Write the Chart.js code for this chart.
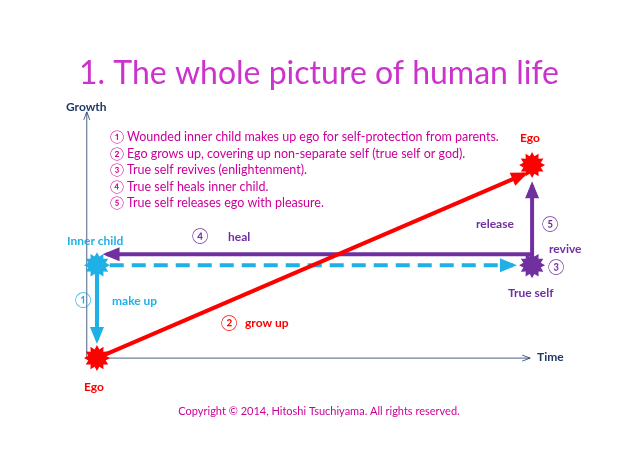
<!DOCTYPE html>
<html>
<head>
<meta charset="utf-8">
<script src="https://cdn.jsdelivr.net/npm/chart.js@4.4.1/dist/chart.umd.min.js"></script>
<style>
  html, body { margin: 0; padding: 0; background: #fff; }
  #wrap { width: 638px; height: 451px; }
</style>
</head>
<body>
<div id="wrap"><canvas id="diagram"></canvas></div>
<script>
// node positions on a 0-100 grid
const nodeNames = ['egoLow', 'innerChild', 'trueSelf', 'egoHigh'];
const nodeX = [15.2, 15.2, 83.4, 83.4];
const nodeY = [20.6, 41.2, 41.2, 63.4];
const nodeColors = ['#ff0000', '#1fb0e6', '#7030a0', '#ff0000'];

// axes
const axisOrigin = [13.6, 20.6];
const growthTop = 75.2;
const timeEnd = 83.1;

const legendLines = [
  '\u2460 Wounded inner child makes up ego for self-protection from parents.',
  '\u2461 Ego grows up, covering up non-separate self (true self or god).',
  '\u2462 True self revives (enlightenment).',
  '\u2463 True self heals inner child.',
  '\u2464 True self releases ego with pleasure.'
];

const FONT = 'Lato, "Open Sans", sans-serif';
const CYAN = '#1fb0e6', RED = '#ff0000', PURPLE = '#7030a0', PINK = '#cc0099', NAVY = '#1f3864';

function seg(x1, y1, x2, y2, color, width, dash) {
  return {
    data: [{x: x1, y: y1}, {x: x2, y: y2}],
    showLine: true, borderColor: color, borderWidth: width,
    borderDash: dash || [], pointRadius: 0, arrow: true
  };
}

const datasets = [
  seg(axisOrigin[0], axisOrigin[1], axisOrigin[0], growthTop, NAVY, 0.8),
  seg(axisOrigin[0], axisOrigin[1], timeEnd, axisOrigin[1], NAVY, 0.8),
  seg(nodeX[1], nodeY[1], nodeX[0], nodeY[0] + 4, CYAN, 4),
  seg(nodeX[0], nodeY[0], nodeX[3] - 1.2, nodeY[3] - 2, RED, 4),
  seg(nodeX[1] + 2, nodeY[1], nodeX[2] - 3, nodeY[2], CYAN, 4, [14, 8]),
  seg(nodeX[2], 43.6, nodeX[1] + 1.5, 43.6, PURPLE, 4),
  seg(nodeX[2], nodeY[2] + 1, nodeX[3], nodeY[3] - 4.5, PURPLE, 4)
];

const diagramPlugin = {
  id: 'diagram',
  afterDatasetsDraw(chart) {
    const ctx = chart.ctx, xs = chart.scales.x, ys = chart.scales.y;
    // arrowheads
    chart.data.datasets.forEach(ds => {
      if (!ds.arrow) return;
      const a = ds.data[0], b = ds.data[1];
      const x1 = xs.getPixelForValue(a.x), y1 = ys.getPixelForValue(a.y);
      const x2 = xs.getPixelForValue(b.x), y2 = ys.getPixelForValue(b.y);
      const ang = Math.atan2(y2 - y1, x2 - x1);
      const len = ds.borderWidth > 2 ? 13 : 8, wid = ds.borderWidth > 2 ? 7 : 3;
      ctx.save();
      ctx.fillStyle = ds.borderColor;
      ctx.strokeStyle = ds.borderColor;
      if (ds.borderWidth > 2) {
        ctx.beginPath();
        ctx.moveTo(x2 + Math.cos(ang) * 4, y2 + Math.sin(ang) * 4);
        ctx.lineTo(x2 - Math.cos(ang) * len - Math.sin(ang) * wid, y2 - Math.sin(ang) * len + Math.cos(ang) * wid);
        ctx.lineTo(x2 - Math.cos(ang) * len + Math.sin(ang) * wid, y2 - Math.sin(ang) * len - Math.cos(ang) * wid);
        ctx.closePath(); ctx.fill();
      } else {
        ctx.lineWidth = 0.8;
        ctx.beginPath();
        ctx.moveTo(x2 - Math.cos(ang) * len - Math.sin(ang) * wid, y2 - Math.sin(ang) * len + Math.cos(ang) * wid);
        ctx.lineTo(x2, y2);
        ctx.lineTo(x2 - Math.cos(ang) * len + Math.sin(ang) * wid, y2 - Math.sin(ang) * len - Math.cos(ang) * wid);
        ctx.stroke();
      }
      ctx.restore();
    });
    // burst nodes
    nodeX.forEach((v, i) => {
      const cx = xs.getPixelForValue(v), cy = ys.getPixelForValue(nodeY[i]);
      ctx.save();
      ctx.fillStyle = nodeColors[i];
      ctx.beginPath();
      for (let k = 0; k < 24; k++) {
        const r = k % 2 ? 9 : 13, t = k * Math.PI / 12;
        ctx[k ? 'lineTo' : 'moveTo'](cx + r * Math.cos(t), cy + r * Math.sin(t));
      }
      ctx.closePath(); ctx.fill();
      ctx.restore();
    });
    // texts
    const text = (s, x, y, color, size, bold, align) => {
      ctx.save();
      ctx.font = (bold ? 'bold ' : '') + size + 'px ' + FONT;
      ctx.fillStyle = color; ctx.textAlign = align || 'left'; ctx.textBaseline = 'middle';
      ctx.fillText(s, x, y);
      ctx.restore();
    };
    text('1. The whole picture of human life', 319, 74, '#cc33cc', 32, false, 'center');
    legendLines.forEach((s, i) => text(s, 110, 137 + i * 16.5, PINK, 12.5));
    text('Growth', 66, 107, NAVY, 12, true);
    text('Time', 537, 357, NAVY, 12, true);
    text('Ego', 520, 138, RED, 12, true);
    text('Ego', 84, 387, RED, 12, true);
    text('Inner child', 67, 241, CYAN, 12, true);
    text('\u2460', 75, 300, CYAN, 15);
    text('make up', 112, 301, CYAN, 12, true);
    text('\u2461', 221, 323, RED, 15);
    text('grow up', 245, 323, RED, 12, true);
    text('\u2463', 192, 236, PURPLE, 15);
    text('heal', 228, 237, PURPLE, 12, true);
    text('release', 476, 224, PURPLE, 12, true);
    text('\u2464', 542, 224, PURPLE, 15);
    text('revive', 549, 249, PURPLE, 12, true);
    text('\u2462', 548, 267, PURPLE, 15);
    text('True self', 508, 293, PURPLE, 12, true);
    text('Copyright \u00a9 2014, Hitoshi Tsuchiyama. All rights reserved.', 319, 411, PINK, 11, false, 'center');
  }
};

new Chart(document.getElementById('diagram'), {
  type: 'scatter',
  data: { datasets: datasets },
  options: {
    responsive: true, maintainAspectRatio: false, animation: false,
    layout: { padding: 0 },
    plugins: { legend: { display: false }, tooltip: { enabled: false } },
    scales: {
      x: { type: 'linear', min: 0, max: 100, display: false },
      y: { type: 'linear', min: 0, max: 100, display: false }
    }
  },
  plugins: [diagramPlugin]
});
</script>
</body>
</html>
